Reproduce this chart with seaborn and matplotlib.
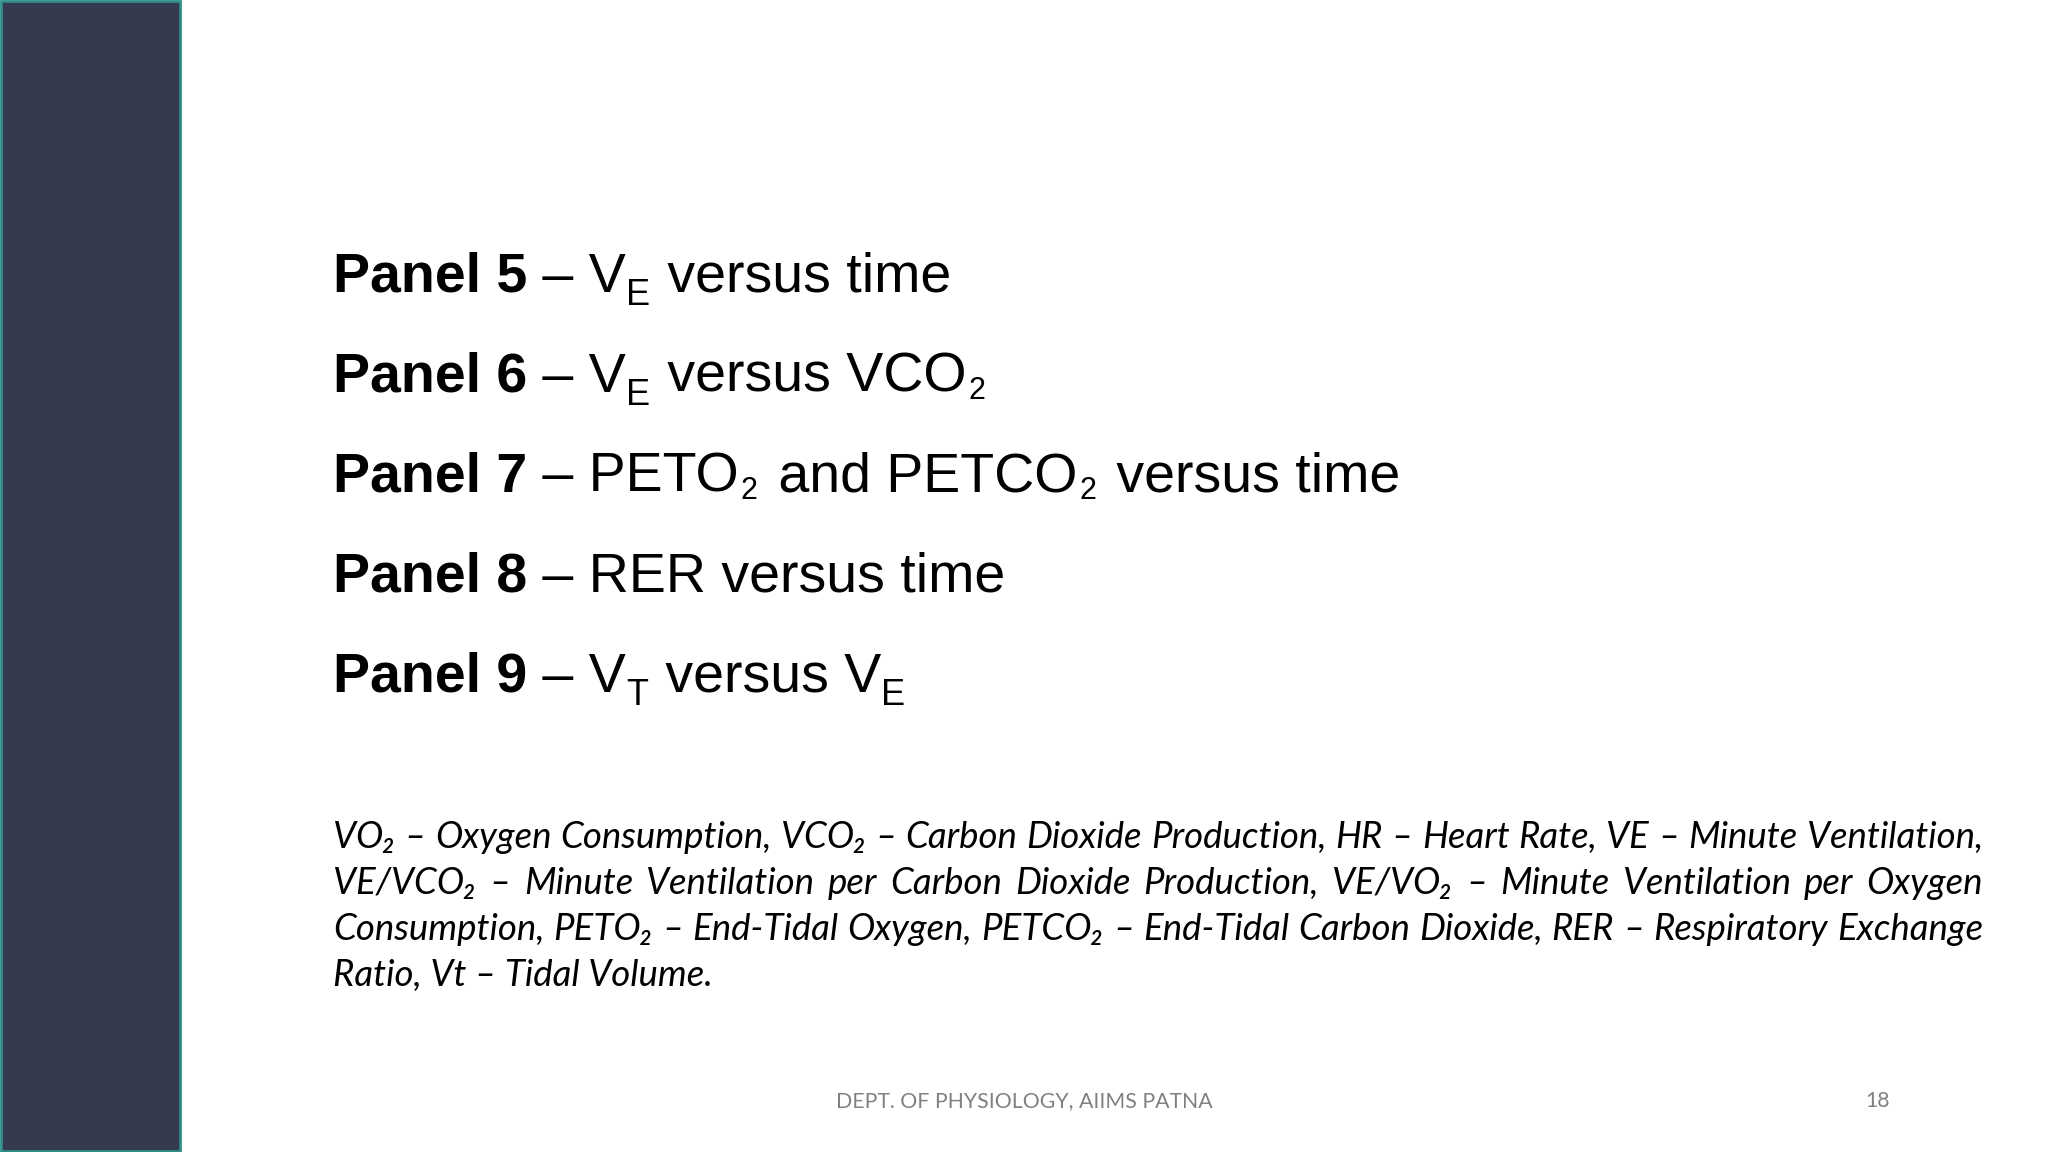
import matplotlib
matplotlib.use("Agg")
import matplotlib.pyplot as plt
import seaborn as sns
from matplotlib.patches import Rectangle

sns.set_theme(style="white")
plt.rcParams["font.family"] = ["Liberation Sans", "DejaVu Sans"]

## slide content
panel_labels = ["Panel 5", "Panel 6", "Panel 7", "Panel 8", "Panel 9"]
panel_runs = [
    [(" – V", "n"), ("E", "sub"), (" versus time", "n")],
    [(" – V", "n"), ("E", "sub"), (" versus VCO", "n"), ("2", "sub2")],
    [(" – PETO", "n"), ("2", "sub2"), (" and PETCO", "n"), ("2", "sub2"), (" versus time", "n")],
    [(" – RER versus time", "n")],
    [(" – V", "n"), ("T", "sub"), (" versus V", "n"), ("E", "sub")],
]
foot_lines = [
    "VO₂ – Oxygen Consumption, VCO₂ – Carbon Dioxide Production, HR – Heart Rate, VE – Minute Ventilation,",
    "VE/VCO₂ – Minute Ventilation per Carbon Dioxide Production, VE/VO₂ – Minute Ventilation per Oxygen",
    "Consumption, PETO₂ – End-Tidal Oxygen, PETCO₂ – End-Tidal Carbon Dioxide, RER – Respiratory Exchange",
    "Ratio, Vt – Tidal Volume.",
]
footer_text = "DEPT. OF PHYSIOLOGY, AIIMS PATNA"
slide_number = "18"

W, H = 2048, 1152
fig = plt.figure(figsize=(20.48, 11.52), dpi=100)
fig.patch.set_facecolor("white")
ax = fig.add_axes([0, 0, 1, 1])
ax.set_xlim(0, W)
ax.set_ylim(H, 0)
ax.axis("off")

# dark side bar
ax.add_patch(Rectangle((1, 1), 179, H - 2, facecolor="#353a4f",
                       edgecolor="#2e8d88", linewidth=2))

renderer = fig.canvas.get_renderer()


def width(t):
    return t.get_window_extent(renderer).width


##panel lines
panel_fs = 40
left = 333
for i, (label, runs) in enumerate(zip(panel_labels, panel_runs)):
    y = 292 + i * 100
    t = ax.text(left, y, label, fontsize=panel_fs, fontweight="bold",
                va="baseline", color="black")
    x = left + width(t)
    for txt, kind in runs:
        fs, dy, pad = panel_fs, 0, 0
        if kind == "sub":
            fs, dy, pad = panel_fs * 0.65, 13, 2
        elif kind == "sub2":
            fs, dy, pad = panel_fs * 0.55, 7, 5
            x += 2
        t = ax.text(x, y + dy, txt, fontsize=fs, va="baseline", color="black")
        x += width(t) + pad

##footnote, justified
foot_font = ["Lato", "DejaVu Sans"]
right = 1983
tmp = ax.text(0, 0, foot_lines[0], fontsize=20, family=foot_font, style="italic")
foot_fs = 20 * (right - left - 4) / width(tmp)
tmp.remove()

for j, line in enumerate(foot_lines):
    y = 848 + j * 46
    if j == len(foot_lines) - 1:
        ax.text(left, y, line, fontsize=foot_fs, family=foot_font,
                style="italic", va="baseline", color="black")
        continue
    words = line.split(" ")
    texts = [ax.text(0, y, w, fontsize=foot_fs, family=foot_font,
                     style="italic", va="baseline", color="black") for w in words]
    widths = [width(t) for t in texts]
    gap = (right - left - sum(widths)) / (len(words) - 1)
    x = left
    for t, w in zip(texts, widths):
        t.set_x(x)
        x += w + gap

##footer
tmp = ax.text(0, 0, footer_text, fontsize=14, family=foot_font)
foot2_fs = 14 * 376 / width(tmp)
tmp.remove()
ax.text(1024, 1101, footer_text, fontsize=foot2_fs, family=foot_font,
        color="#808080", ha="center", va="center")
ax.text(1878, 1101, slide_number, fontsize=foot2_fs, family=foot_font,
        color="#808080", ha="center", va="center")

fig.savefig("out.png", dpi=100, facecolor="white")
